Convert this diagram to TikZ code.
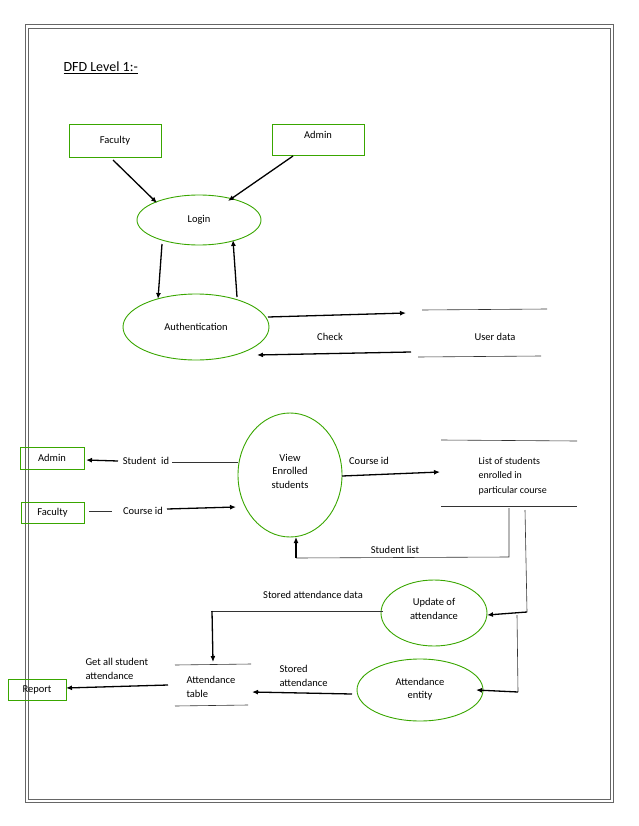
\documentclass[tikz,border=0pt]{standalone}
\usepackage{fontspec}
\setmainfont{Carlito}
\usetikzlibrary{arrows.meta,shapes.geometric}
\begin{document}
\begin{tikzpicture}[x=1pt,y=-1pt,
  ent/.style={draw=green!50!black!70!lime, line width=0.9pt, inner sep=0pt},
  arr/.style={-{Latex[length=6pt,width=5pt]}, line width=1.3pt},
  ln/.style={line width=0.6pt, draw=black!80},
  lbl/.style={font=\fontsize{10.5}{13.5}\selectfont, align=center},
  every node/.style={font=\fontsize{10.5}{13.5}\selectfont}]
\useasboundingbox (0,0) rectangle (638,826);
\draw[black!60, line width=1pt] (25,25) rectangle (613,802);
\draw[black!60, line width=0.8pt] (28,28) rectangle (610,799);
\node[anchor=west, font=\fontsize{14}{16}\selectfont] (title) at (60,68) {\underline{DFD Level 1:-}};
% top
\node[ent, minimum width=92pt, minimum height=33pt] (fac1) at (115,141) {Faculty};
\node[ent, minimum width=92pt, minimum height=31pt, anchor=north] (adm1) at (318,124) {};
\node (adm1t) at (318,135) {Admin};
\node[ent, ellipse, minimum width=124pt, minimum height=50pt] (login) at (199,220) {Login};
\node[ent, ellipse, minimum width=146pt, minimum height=66pt] (auth) at (196,327) {Authentication};
\coordinate (a1) at (113,160); \coordinate (a2) at (157,203);
\draw[arr] (a1) -- (a2);
\coordinate (b1) at (293,156); \coordinate (b2) at (228,201);
\draw[arr] (b1) -- (b2);
\coordinate (c1) at (162,244); \coordinate (c2) at (158,299);
\draw[arr] (c1) -- (c2);
\coordinate (d1) at (237,297); \coordinate (d2) at (233,240);
\draw[arr] (d1) -- (d2);
\coordinate (e1) at (268,317); \coordinate (e2) at (406,313);
\draw[arr] (e1) -- (e2);
\coordinate (f1) at (411,352); \coordinate (f2) at (257,355);
\draw[arr] (f1) -- (f2);
\node (check) at (330,337) {Check};
\draw[ln] (422,310) -- (547,309); \draw[ln] (418,357) -- (541,356);
\node (udata) at (495,337) {User data};
% middle
\node[ent, ellipse, minimum width=104pt, minimum height=124pt] (view) at (290,475) {};
\node[lbl] (viewt) at (290,471) {View\\Enrolled\\students};
\node[ent, minimum width=64pt, minimum height=22pt] (adm2) at (52,458) {Admin};
\node[ent, minimum width=63pt, minimum height=21pt] (fac2) at (52.5,512.5) {Faculty};
\node (sid) at (146,461) {Student\ \ id};
\draw[ln] (238,462) -- (172,462);
\coordinate (g1) at (118,461); \coordinate (g2) at (86,460);
\draw[arr] (g1) -- (g2);
\draw[ln] (89,511) -- (112,511);
\node (cid1) at (143,511) {Course id};
\coordinate (h1) at (167,509); \coordinate (h2) at (236,507);
\draw[arr] (h1) -- (h2);
\node (cid2) at (369,461) {Course id};
\coordinate (i1) at (342,476); \coordinate (i2) at (440,472);
\draw[arr] (i1) -- (i2);
\draw[ln] (441,440) -- (577,441); \draw[ln] (441,506) -- (577,506);
\node[align=left, anchor=west, font=\fontsize{10}{14.5}\selectfont] (list) at (475,476) {List of students\\enrolled in\\particular course};
\coordinate (j1) at (509,508); \coordinate (j2) at (509,557); \coordinate (j3) at (296,558); \coordinate (j4) at (296,537);
\draw[ln] (j1) -- (j2) -- (j3);
\draw[arr] (j3) -- (j4);
\node (slist) at (395,550) {Student list};
% bottom
\node[ent, ellipse, minimum width=106pt, minimum height=66pt] (upd) at (434,613) {};
\node[lbl] (updt) at (434,609) {Update of\\attendance};
\node[ent, ellipse, minimum width=126pt, minimum height=62pt] (aent) at (420,690) {};
\node[lbl] (aentt) at (420,689) {Attendance\\entity};
\coordinate (k1) at (525,510); \coordinate (k2) at (527,612); \coordinate (k3) at (487,615);
\draw[ln] (k1) -- (k2);
\draw[arr] (k2) -- (k3);
\coordinate (l1) at (517,615); \coordinate (l2) at (518,692); \coordinate (l3) at (476,690);
\draw[ln] (l1) -- (l2);
\draw[arr] (l2) -- (l3);
\coordinate (m1) at (383,611); \coordinate (m2) at (211,611); \coordinate (m3) at (213,662);
\draw[ln] (m1) -- (m2);
\draw[arr] (212,611) -- (m3);
\node (sad) at (313,595) {Stored attendance data};
\draw[ln] (175,665) -- (251,664); \draw[ln] (175,706) -- (248,705);
\node[align=left, anchor=west] (atab) at (183,687) {Attendance\\table};
\coordinate (n1) at (352,694); \coordinate (n2) at (252,692);
\draw[arr] (n1) -- (n2);
\node[align=left, anchor=west] (sa) at (276,676) {Stored\\attendance};
\node[ent, minimum width=58pt, minimum height=21pt] (rep) at (37,690) {Report};
\coordinate (o1) at (168,685); \coordinate (o2) at (66,688);
\draw[arr] (o1) -- (o2);
\node[align=left, anchor=west] (gas) at (82,669) {Get all student\\attendance};
\end{tikzpicture}
\end{document}
